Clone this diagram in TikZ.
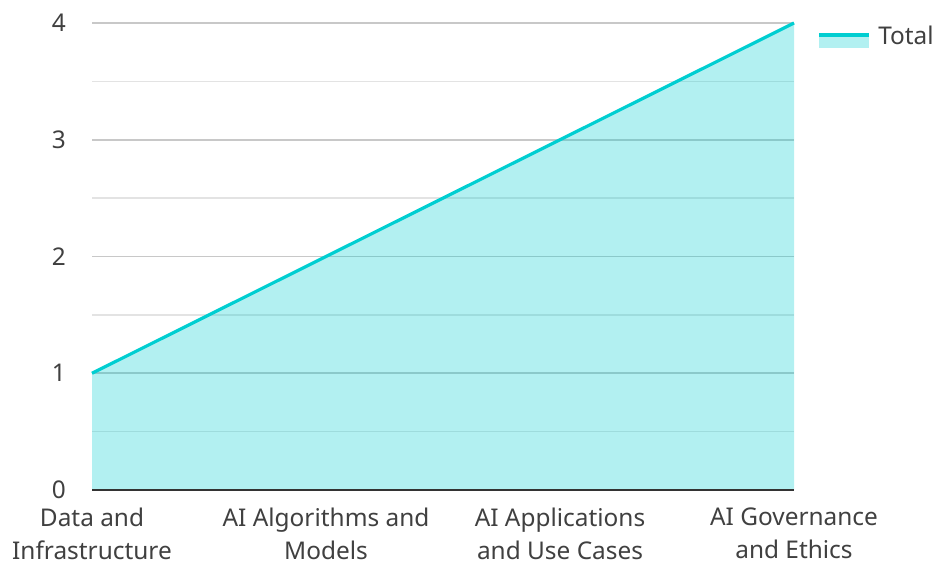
\documentclass[tikz,border=0pt]{standalone}
\usepackage{fontspec}
\setmainfont{Noto Sans}
\usetikzlibrary{positioning}
\definecolor{turq}{HTML}{00CED1}
\definecolor{txtgray}{HTML}{404040}
\definecolor{gridmaj}{HTML}{C8C8C8}
\definecolor{gridmin}{HTML}{E3E3E3}
\tikzset{
  ylab/.style={anchor=east, inner sep=0pt, text=txtgray, font=\fontsize{18.3}{24}\selectfont},
  cat/.style={anchor=north, inner sep=0pt, align=center, text=txtgray, font=\fontsize{18.3}{24.6}\selectfont},
  majgrid/.style={draw=gridmaj, line width=1.2pt},
  mingrid/.style={draw=gridmin, line width=1.2pt},
  axisline/.style={draw=black!80, line width=1.5pt},
  dataline/.style={draw=turq, line width=2.4pt},
  areafill/.style={fill=turq, fill opacity=0.3}
}
\begin{document}
\begin{tikzpicture}[x=0.75pt, y=-0.75pt]
	\useasboundingbox (0,0) rectangle (935,562);
	% grid
	\foreach \k in {1,...,4}
		\draw[majgrid] (92,490-116.75*\k) -- (794,490-116.75*\k);
	\foreach \k in {0,...,3}
		\draw[mingrid] (92,490-116.75*\k-58.375) -- (794,490-116.75*\k-58.375);
	\foreach \k in {0,...,4}
		\node[ylab] (y\k) at (66,490-116.75*\k) {\k};

	\coordinate (p1) at (92,373.25);
	\coordinate (p2) at (326,256.5);
	\coordinate (p3) at (560,139.75);
	\coordinate (p4) at (794,23);
	\coordinate (b1) at (92,490);
	\coordinate (b4) at (794,490);

	\fill[areafill] (b1) -- (p1) -- (p2) -- (p3) -- (p4) -- (b4) -- cycle;
	\draw[axisline] (b1) -- (b4);
	\draw[dataline] (p1) -- (p2) -- (p3) -- (p4);

	% categories
	\node[cat] (c1) at (92,508) {Data and\\Infrastructure};
	\node[cat] (c2) at (326,508) {AI Algorithms and\\Models};
	\node[cat] (c3) at (560,508) {AI Applications\\and Use Cases};
	\node[cat] (c4) at (794,508) {AI Governance\\and Ethics};

	% legend
	\fill[areafill] (819,33) rectangle (869,48);
	\draw[dataline] (819,35) -- (869,35);
	\node[anchor=base west, inner sep=0pt, text=txtgray, font=\fontsize{18.3}{24}\selectfont] (leg) at (878,44) {Total};
\end{tikzpicture}
\end{document}
